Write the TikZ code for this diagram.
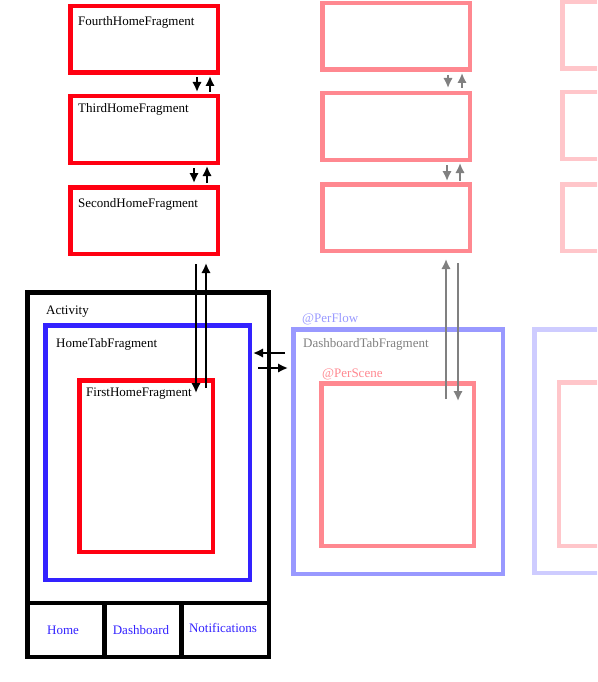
\documentclass[tikz,border=0pt]{standalone}
\usepackage{fontspec}
\setmainfont{Liberation Serif}
\usetikzlibrary{arrows.meta}

\definecolor{fragred}{RGB}{255,0,17}
\definecolor{tabblue}{RGB}{51,34,255}
\definecolor{fadered}{RGB}{255,136,144}
\definecolor{fadeblue}{RGB}{153,153,255}
\definecolor{palered}{RGB}{255,198,202}
\definecolor{paleblue}{RGB}{206,204,255}
\definecolor{navgray}{RGB}{128,128,128}

\tikzset{
  box/.style={draw, line width=4.5pt, inner sep=0pt},
  frag/.style={box, minimum width=147.5pt, minimum height=66.5pt},
  lbl/.style={font=\fontsize{13}{15}\selectfont, inner sep=0pt, anchor=base west},
  nav/.style={-{Latex[length=10pt,width=9.5pt]}, line width=2.2pt},
}

\begin{document}
\begin{tikzpicture}[x=1pt,y=-1pt]
\clip (0,0) rectangle (597,682);

\begin{scope}
\node [frag,draw=fragred] (f4) at (144,39.5) {};
\node [frag,draw=fragred] (f3) at (144,129.5) {};
\node [frag,draw=fragred] (f2) at (144,220.5) {};
\node [lbl] (l4) at ([xshift=10pt,yshift=-22pt]f4.north west) {FourthHomeFragment};
\node [lbl] (l3) at ([xshift=10pt,yshift=-19pt]f3.north west) {ThirdHomeFragment};
\node [lbl] (l2) at ([xshift=10pt,yshift=-22pt]f2.north west) {SecondHomeFragment};
\end{scope}

\begin{scope}
\node [box,minimum width=241.5pt,minimum height=364.5pt] (act) at (148,474.5) {};
\node [box,draw=tabblue,minimum width=204.5pt,minimum height=254.5pt] (home) at (147.5,452.5) {};
\node [box,draw=fragred,minimum width=133.5pt,minimum height=171.5pt] (f1) at (146,466) {};
\node [lbl] (lact) at ([xshift=21pt,yshift=-24pt]act.north west) {Activity};
\node [lbl] (lhome) at ([xshift=13pt,yshift=-24pt]home.north west) {HomeTabFragment};
\node [lbl] (l1) at ([xshift=9pt,yshift=-18pt]f1.north west) {FirstHomeFragment};
\draw [line width=4.5pt] (act.west |- 0,603) -- (act.east |- 0,603);
\draw [line width=4.5pt] (104.5,603) -- (104.5,0 |- act.south);
\draw [line width=4.5pt] (181.5,603) -- (181.5,0 |- act.south);
\node [lbl,anchor=base,text=tabblue] (t1) at (63,634) {Home};
\node [lbl,anchor=base,text=tabblue] (t2) at (141,634) {Dashboard};
\node [lbl,anchor=base,text=tabblue] (t3) at (223,632) {Notifications};
\end{scope}

\begin{scope}
\node [frag,draw=fadered] (m4) at (396,36.5) {};
\node [frag,draw=fadered] (m3) at (396,126.5) {};
\node [frag,draw=fadered] (m2) at (396,217.5) {};
\node [box,draw=fadeblue,minimum width=209.5pt,minimum height=244.5pt] (dash) at (398,451.5) {};
\node [box,draw=fadered,minimum width=152.5pt,minimum height=162.5pt] (scene) at (397.5,464.5) {};
\node [lbl,text=navgray] (ldash) at ([xshift=12pt,yshift=-20pt]dash.north west) {DashboardTabFragment};
\node [lbl,text=fadeblue] (flow) at ([xshift=11pt,yshift=5pt]dash.north west) {@PerFlow};
\node [lbl,text=fadered] (per) at ([xshift=3pt,yshift=4pt]scene.north west) {@PerScene};
\end{scope}

\begin{scope}
\node [frag,draw=palered] (r4) at (636,35.5) {};
\node [frag,draw=palered] (r3) at (636,125.5) {};
\node [frag,draw=palered] (r2) at (636,217.5) {};
\node [box,draw=paleblue,minimum width=209.5pt,minimum height=243.5pt] (rdash) at (639,451) {};
\node [box,draw=palered,minimum width=152.5pt,minimum height=163.5pt] (rscene) at (635.25,464) {};
\end{scope}

\draw [nav] ([xshift=-23pt,yshift=-2pt]f4.south east) -- ([xshift=-23pt,yshift=2pt]f3.north east);
\draw [nav] ([xshift=-10pt,yshift=2pt]f3.north east) -- ([xshift=-10pt,yshift=-1pt]f4.south east);
\draw [nav] ([xshift=-26pt,yshift=-3pt]f3.south east) -- ([xshift=-26pt,yshift=2pt]f2.north east);
\draw [nav] ([xshift=-13pt,yshift=2pt]f2.north east) -- ([xshift=-13pt,yshift=-1pt]f3.south east);
\draw [nav] ([xshift=-24pt,yshift=-8pt]f2.south east) -- ([xshift=-19pt,yshift=-15pt]f1.north east);
\draw [nav] ([xshift=-9pt,yshift=-10pt]f1.north east) -- ([xshift=-14pt,yshift=-7pt]f2.south east);
\draw [nav] ([xshift=-6pt,yshift=98.5pt]dash.west) -- ([xshift=1pt,yshift=99.5pt]home.east);
\draw [nav] ([xshift=6pt,yshift=84.5pt]home.east) -- ([xshift=-3pt,yshift=83.5pt]dash.west);

\draw [nav,navgray] ([xshift=-24pt,yshift=-3pt]m4.south east) -- ([xshift=-24pt,yshift=3pt]m3.north east);
\draw [nav,navgray] ([xshift=-10pt,yshift=3pt]m3.north east) -- ([xshift=-10pt,yshift=-1pt]m4.south east);
\draw [nav,navgray] ([xshift=-25pt,yshift=-3pt]m3.south east) -- ([xshift=-25pt,yshift=1pt]m2.north east);
\draw [nav,navgray] ([xshift=-12pt,yshift=1pt]m2.north east) -- ([xshift=-12pt,yshift=-1pt]m3.south east);
\draw [nav,navgray] ([xshift=-30pt,yshift=-18pt]scene.north east) -- ([xshift=-26pt,yshift=-6pt]m2.south east);
\draw [nav,navgray] ([xshift=-14pt,yshift=-10pt]m2.south east) -- ([xshift=-18pt,yshift=-20pt]scene.north east);

\end{tikzpicture}
\end{document}
